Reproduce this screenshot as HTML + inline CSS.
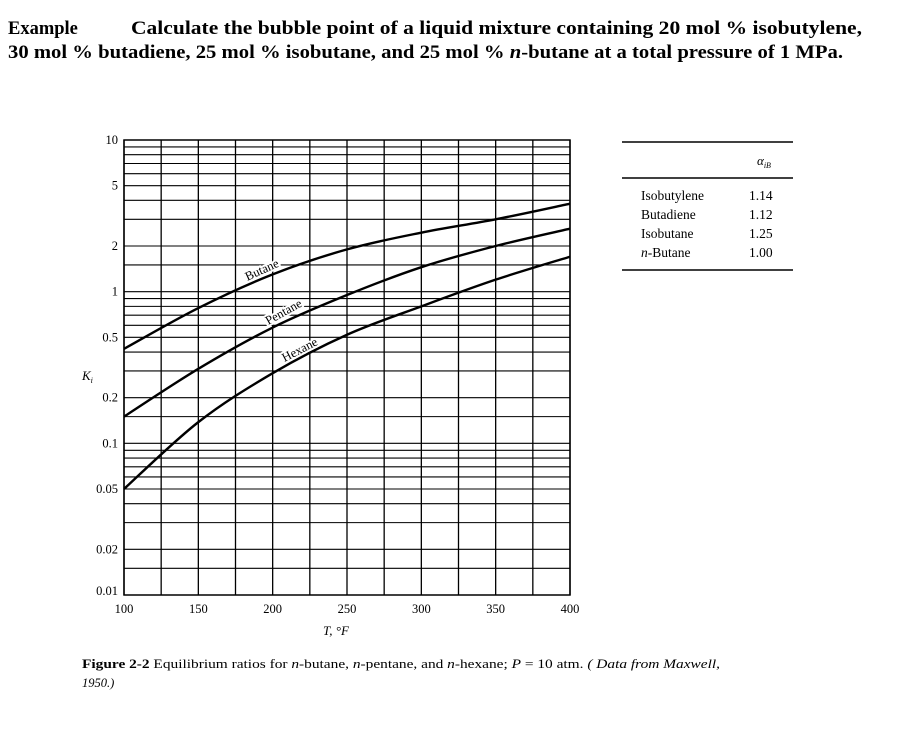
<!DOCTYPE html>
<html><head><meta charset="utf-8"><style>
body{margin:0;background:#fff;}
svg{display:block;font-family:"Liberation Serif",serif;}
</style></head><body>
<svg width="908" height="733" viewBox="0 0 908 733">
<g font-size="18.5" font-weight="bold" fill="#000">
<text x="8" y="34">Example</text>
<text x="131" y="34" textLength="731" lengthAdjust="spacingAndGlyphs">Calculate the bubble point of a liquid mixture containing 20 mol % isobutylene,</text>
<text x="8" y="58" textLength="835" lengthAdjust="spacingAndGlyphs">30 mol % butadiene, 25 mol % isobutane, and 25 mol % <tspan font-style="italic">n</tspan>-butane at a total pressure of 1 MPa.</text>
</g>
<g id="grid"></g>
<g id="curves"></g>
<g id="axes" font-size="12.5"></g>
<text x="82" y="380" font-size="13" font-style="italic">K<tspan font-size="8" dy="3">i</tspan></text>
<text x="323" y="635" font-size="13" font-style="italic">T, °F</text>
<g font-size="12.5">
<text x="82" y="668" textLength="638" lengthAdjust="spacingAndGlyphs"><tspan font-weight="bold">Figure 2-2</tspan> Equilibrium ratios for <tspan font-style="italic">n</tspan>-butane, <tspan font-style="italic">n</tspan>-pentane, and <tspan font-style="italic">n</tspan>-hexane; <tspan font-style="italic">P</tspan> = 10 atm.<tspan font-style="italic"> ( Data from Maxwell,</tspan></text>
<text x="82" y="687" font-style="italic">1950.)</text>
</g>
<g font-size="13.5">
<line x1="622" y1="142" x2="793" y2="142" stroke="#000" stroke-width="1.5"/>
<line x1="622" y1="178" x2="793" y2="178" stroke="#000" stroke-width="1.5"/>
<line x1="622" y1="270" x2="793" y2="270" stroke="#000" stroke-width="1.5"/>
<text x="757" y="165" font-style="italic" font-size="13">α<tspan font-size="8" dy="3">iB</tspan></text>
<text x="641" y="200">Isobutylene</text><text x="749" y="200">1.14</text>
<text x="641" y="219">Butadiene</text><text x="749" y="219">1.12</text>
<text x="641" y="238">Isobutane</text><text x="749" y="238">1.25</text>
<text x="641" y="257"><tspan font-style="italic">n</tspan>-Butane</text><text x="749" y="257">1.00</text>
</g>
</svg>
<script>
const temps=[100,150,200,250,300,350,400];
const butane=[0.42,0.78,1.3,1.9,2.45,3.0,3.8];
const pentane=[0.15,0.31,0.58,0.95,1.45,2.0,2.6];
const hexane=[0.05,0.138,0.29,0.52,0.8,1.2,1.7];
const xTicks=[100,150,200,250,300,350,400];
const yTicks=[0.01,0.02,0.05,0.1,0.2,0.5,1,2,5,10];
const yTickLabels=["0.01","0.02","0.05","0.1","0.2","0.5","1","2","5","10"];
const X0=124,X1=570,Y0=595,Y1=140;
const xs=t=>X0+(t-100)/300*(X1-X0);
const ys=k=>Y0-(Math.log10(k)+2)/3*(Y0-Y1);
const NS="http://www.w3.org/2000/svg";
function mk(tag,attrs,parent){const e=document.createElementNS(NS,tag);for(const k in attrs)e.setAttribute(k,attrs[k]);parent.appendChild(e);return e;}
const grid=document.getElementById('grid');
for(let t=100;t<=400;t+=25){
 const l=mk('line',{x1:xs(t),x2:xs(t),y1:Y1,y2:Y0,stroke:'#000','stroke-width':1.3},grid);
 
 
}
const minors=[1,1.5,2,3,4,5,6,7,8,9];
for(let d=0.01;d<5;d*=10){for(const m of minors){
 const l=mk('line',{x1:X0,x2:X1,y1:ys(d*m),y2:ys(d*m),stroke:'#000','stroke-width':1.1},grid);
 
 
}}
const fr=mk('rect',{x:X0,y:Y1,width:X1-X0,height:Y0-Y1,fill:'none',stroke:'#000','stroke-width':1.5},grid);


const axes=document.getElementById('axes');
xTicks.forEach(t=>{const e=mk('text',{x:xs(t),y:Y0+18,'text-anchor':'middle'},axes);e.textContent=t;
 
 });
yTicks.forEach((k,i)=>{const e=mk('text',{x:X0-6,y:ys(k)+(i==0?0:4),'text-anchor':'end'},axes);e.textContent=yTickLabels[i];
 
 });
const curves=document.getElementById('curves');
function path(vals){const p=temps.map((t,i)=>[xs(t),ys(vals[i])]);
 let d='M'+p[0][0]+','+p[0][1];
 for(let i=0;i<p.length-1;i++){const p0=p[Math.max(0,i-1)],p1=p[i],p2=p[i+1],p3=p[Math.min(p.length-1,i+2)];
  d+=' C'+(p1[0]+(p2[0]-p0[0])/6)+','+(p1[1]+(p2[1]-p0[1])/6)+' '+(p2[0]-(p3[0]-p1[0])/6)+','+(p2[1]-(p3[1]-p1[1])/6)+' '+p2[0]+','+p2[1];}
 return d;}
[[butane,'butane-curve','Butane',183],[pentane,'pentane-curve','Pentane',197],[hexane,'hexane-curve','Hexane',208]].forEach(([v,n,lab,lt])=>{
 const e=mk('path',{d:path(v),fill:'none',stroke:'#000','stroke-width':2.4},curves);
 
 
 let i=temps.findIndex(t=>t>lt)-1;const f=(lt-temps[i])/(temps[i+1]-temps[i]);
 const k=Math.pow(10,Math.log10(v[i])+f*(Math.log10(v[i+1])-Math.log10(v[i])));
 const ang=Math.atan2(ys(v[i+1])-ys(v[i]),xs(temps[i+1])-xs(temps[i]))*180/Math.PI;
 const g=mk('text',{x:0,y:0,'font-size':12.5,transform:`translate(${xs(lt)},${ys(k)-5}) rotate(${ang})`,'paint-order':'stroke',stroke:'#fff','stroke-width':4,fill:'#000'},curves);
 g.textContent=lab;
 
 
});
</script>
</body></html>
